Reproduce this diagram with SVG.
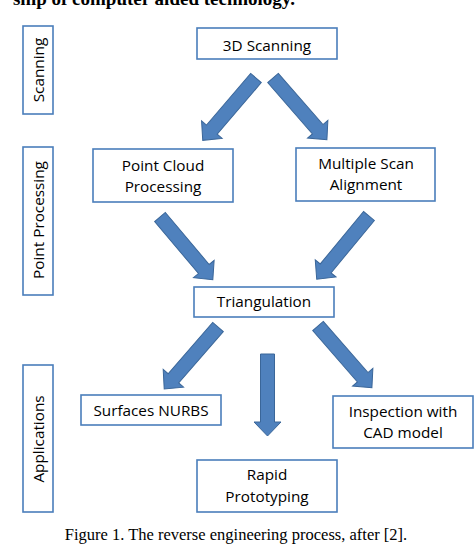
<svg xmlns="http://www.w3.org/2000/svg" xmlns:xlink="http://www.w3.org/1999/xlink" width="474" height="552" viewBox="0 0 474 552">
<style>
.box{fill:#fff;stroke:#4a7ebb;stroke-width:1.6}
.t{font-family:"Open Sans","Noto Sans",sans-serif;font-size:15.3px;fill:#000;text-anchor:middle}
.arr{fill:#4f81bd;stroke:#3a6699;stroke-width:1}
.cap{font-family:"Liberation Serif",serif;font-size:16.5px;fill:#000;text-anchor:middle}
</style>
<defs>
<path id="arrow" d="M0,-7 H68 V-13.5 L82,0 L68,13.5 V7 H0 Z"/>
</defs>
<rect width="474" height="552" fill="#fff"/>
<text x="295" y="5" font-family="Liberation Serif,serif" font-weight="bold" font-size="19" text-anchor="end">ship of computer aided technology.</text>

<g id="connectors" class="arr">
<use xlink:href="#arrow" transform="translate(256,78) rotate(130.5)"/>
<use xlink:href="#arrow" transform="translate(273,78) rotate(48.9)"/>
<use xlink:href="#arrow" transform="translate(160,217) rotate(49.9)"/>
<use xlink:href="#arrow" transform="translate(369,216) rotate(129.6)"/>
<use xlink:href="#arrow" transform="translate(218,327) rotate(131)"/>
<use xlink:href="#arrow" transform="translate(318,326) rotate(48.9)"/>
<use xlink:href="#arrow" transform="translate(267.5,354) rotate(90)"/>
</g>

<g id="lane-scanning">
<rect class="box" x="23" y="26" width="30" height="88"/>
<text class="t" transform="translate(44,70) rotate(-90)">Scanning</text>
</g>
<g id="lane-point-processing">
<rect class="box" x="23" y="147" width="30" height="148"/>
<text class="t" transform="translate(44,220) rotate(-90)">Point Processing</text>
</g>
<g id="lane-applications">
<rect class="box" x="23" y="365" width="30" height="147"/>
<text class="t" transform="translate(44,439) rotate(-90)">Applications</text>
</g>

<g id="n-3d-scanning">
<rect class="box" x="197" y="28" width="140" height="31"/>
<text class="t" x="267" y="51">3D Scanning</text>
</g>
<g id="n-point-cloud">
<rect class="box" x="93" y="149" width="140" height="53"/>
<text class="t" x="163" y="171">Point Cloud</text>
<text class="t" x="163" y="192">Processing</text>
</g>
<g id="n-multiple-scan">
<rect class="box" x="296" y="148" width="139" height="53"/>
<text class="t" x="366" y="169">Multiple Scan</text>
<text class="t" x="366" y="190">Alignment</text>
</g>
<g id="n-triangulation">
<rect class="box" x="194" y="287" width="140" height="30"/>
<text class="t" x="264" y="307">Triangulation</text>
</g>
<g id="n-surfaces">
<rect class="box" x="81" y="395" width="140" height="30"/>
<text class="t" x="151" y="416">Surfaces NURBS</text>
</g>
<g id="n-inspection">
<rect class="box" x="333" y="396" width="140" height="52"/>
<text class="t" x="403" y="417">Inspection with</text>
<text class="t" x="403" y="438">CAD model</text>
</g>
<g id="n-rapid">
<rect class="box" x="197" y="460" width="140" height="52"/>
<text class="t" x="267" y="480">Rapid</text>
<text class="t" x="267" y="502">Prototyping</text>
</g>

<text class="cap" x="236" y="540">Figure 1. The reverse engineering process, after [2].</text>
</svg>
